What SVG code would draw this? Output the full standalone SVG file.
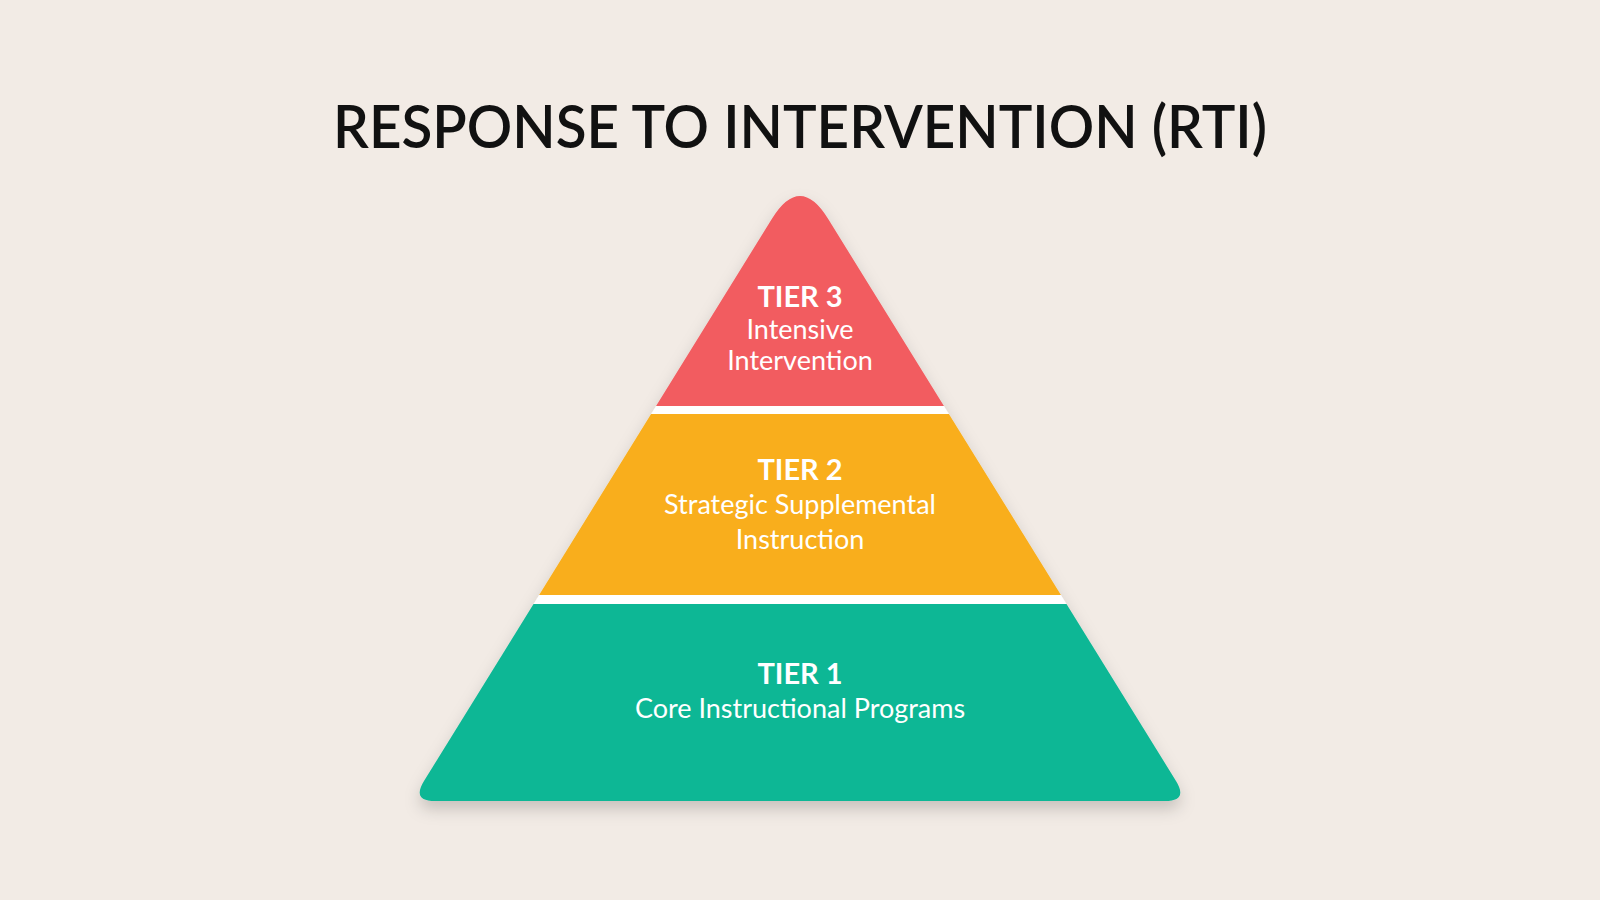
<svg xmlns="http://www.w3.org/2000/svg" width="1600" height="900" viewBox="0 0 1600 900">
<style>
.t{font-family:Lato,"Noto Sans",sans-serif;fill:#fff;text-anchor:middle}
.h{font-weight:700;font-size:29px}
.s{font-size:27px}
</style>
<defs>
<clipPath id="tri"><path d="M772.1,218.5 Q800,173.5 827.9,218.5 L1176,781 Q1188.4,801 1165,801 L435,801 Q411.6,801 424,781 Z"/></clipPath>
<filter id="sh" x="-10%" y="-10%" width="120%" height="130%"><feDropShadow dx="0" dy="8" stdDeviation="8" flood-color="#000" flood-opacity="0.18"/></filter>
</defs>
<rect width="1600" height="900" fill="#F2EBE5"/>
<text x="800" y="148" font-family="Lato,'Noto Sans',sans-serif" font-weight="600" font-size="60" text-anchor="middle" fill="#111" textLength="934" lengthAdjust="spacingAndGlyphs">RESPONSE TO INTERVENTION (RTI)</text>
<g filter="url(#sh)">
<g clip-path="url(#tri)">
<g id="tier3"><rect x="0" y="150" width="1600" height="256" fill="#F25C61"/></g>
<rect x="0" y="406" width="1600" height="8" fill="#fff"/>
<g id="tier2"><rect x="0" y="414" width="1600" height="181" fill="#F9AE1B"/></g>
<rect x="0" y="595" width="1600" height="9" fill="#fff"/>
<g id="tier1"><rect x="0" y="604" width="1600" height="210" fill="#0BB795"/></g>
</g>
</g>
<g id="labels">
<text class="t h" x="800" y="307">TIER 3</text>
<text class="t s" x="800" y="339">Intensive</text>
<text class="t s" x="800" y="370">Intervention</text>
<text class="t h" x="800" y="480">TIER 2</text>
<text class="t s" x="800" y="514">Strategic Supplemental</text>
<text class="t s" x="800" y="549">Instruction</text>
<text class="t h" x="800" y="684">TIER 1</text>
<text class="t s" x="800" y="718">Core Instructional Programs</text>
</g>
<g id="connectors"/>
</svg>
